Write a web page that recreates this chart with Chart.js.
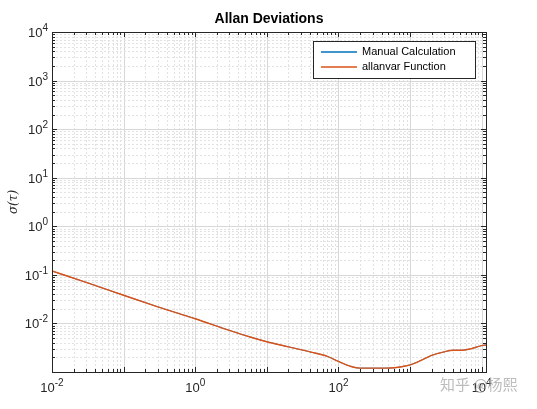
<!DOCTYPE html>
<html><head><meta charset="utf-8">
<script src="https://cdn.jsdelivr.net/npm/chart.js@4"></script>
<style>html,body{margin:0;padding:0;background:#fff}#w{position:relative;width:537px;height:409px}</style>
</head><body><div id="w"><canvas id="c" width="537" height="409"></canvas></div>
<script>
const tau = [0.01,0.03,0.1,0.3,1,3,6,10,20,40,70,100,150,200,300,450,600,800,1000,1500,2000,3000,4000,5200,7000,10000,11500];
const manualCalc = [0.12,0.07,0.038,0.022,0.0125,0.0072,0.0052,0.0042,0.0033,0.0026,0.0021,0.00165,0.0013,0.0012,0.0012,0.0012,0.00122,0.0013,0.0014,0.0018,0.0022,0.0026,0.0028,0.0028,0.003,0.0035,0.0036];
const allanvarFn = manualCalc.slice();
const xTickExps = ['-2','0','2','4'];
const yTickExps = ['-2','-1','0','1','2','3','4'];
const xMajors=[1e-2,1e0,1e2,1e4];
const yMajors=[1e-2,1e-1,1e0,1e1,1e2,1e3,1e4];
function logTicks(min,max){const t=[];for(let e=-4;e<=5;e++)for(let k=1;k<10;k++){const v=k*Math.pow(10,e);if(v>=min*0.999&&v<=max*1.001)t.push({value:v,major:k===1});}return t;}
const F='Arial, "Liberation Sans", sans-serif';
function pow10(ctx,exp,x,y,align){ctx.font='13px '+F;const w1=ctx.measureText('10').width;ctx.font='10px '+F;const w2=ctx.measureText(exp).width;const W=w1+w2;let sx=align==='center'?x-W/2:x-W;ctx.textAlign='left';ctx.textBaseline='alphabetic';ctx.font='13px '+F;ctx.fillText('10',sx,y);ctx.font='10px '+F;ctx.fillText(exp,sx+w1,y-6);}
const gridPlugin={id:'g',beforeDatasetsDraw(ch){const {ctx,chartArea:a,scales:{x,y}}=ch;ctx.save();ctx.lineWidth=1;
 x.ticks.forEach(t=>{const p=Math.round(x.getPixelForValue(t.value))+0.5;ctx.strokeStyle=t.major?'#d8d8d8':'#e2e2e2';ctx.setLineDash(t.major?[]:[2,2]);ctx.beginPath();ctx.moveTo(p,a.top);ctx.lineTo(p,a.bottom);ctx.stroke();});
 y.ticks.forEach(t=>{const p=Math.round(y.getPixelForValue(t.value))+0.5;ctx.strokeStyle=t.major?'#d8d8d8':'#e2e2e2';ctx.setLineDash(t.major?[]:[2,2]);ctx.beginPath();ctx.moveTo(a.left,p);ctx.lineTo(a.right,p);ctx.stroke();});
 ctx.restore();},
 afterDatasetsDraw(ch){const {ctx,chartArea:a,scales:{x,y}}=ch;ctx.save();ctx.strokeStyle='#262626';ctx.lineWidth=1;ctx.setLineDash([]);
 ctx.strokeRect(Math.round(a.left)+0.5,Math.round(a.top)+0.5,Math.round(a.right-a.left),Math.round(a.bottom-a.top));
 ctx.beginPath();
 x.ticks.forEach(t=>{const p=Math.round(x.getPixelForValue(t.value))+0.5;const L=t.major?5:3;ctx.moveTo(p,a.bottom);ctx.lineTo(p,a.bottom-L);ctx.moveTo(p,a.top);ctx.lineTo(p,a.top+L);});
 y.ticks.forEach(t=>{const p=Math.round(y.getPixelForValue(t.value))+0.5;const L=t.major?5:3;ctx.moveTo(a.left,p);ctx.lineTo(a.left+L,p);ctx.moveTo(a.right,p);ctx.lineTo(a.right-L,p);});
 ctx.stroke();
 ctx.fillStyle='#262626';
 xMajors.forEach((v,i)=>pow10(ctx,xTickExps[i],x.getPixelForValue(v),a.bottom+20,'center'));
 yMajors.forEach((v,i)=>pow10(ctx,yTickExps[i],a.left-4,y.getPixelForValue(v)+5,'right'));
 ctx.font='bold 14px '+F;ctx.textAlign='center';ctx.textBaseline='middle';ctx.fillStyle='#000';ctx.fillText('Allan Deviations',(a.left+a.right)/2,19);
 ctx.translate(14,(a.top+a.bottom)/2);ctx.rotate(-Math.PI/2);ctx.font='italic 12px "DejaVu Serif", serif';ctx.fillStyle='#262626';ctx.fillText('σ(τ)',0,0);ctx.setTransform(1,0,0,1,0,0);
 ctx.font='15px "Noto Sans CJK SC"';ctx.fillStyle='rgba(160,160,160,0.7)';ctx.textAlign='left';ctx.fillText('知乎 @杨熙',440,384);
 const lx=313,ly=41,lw=162,lh=37;ctx.fillStyle='#fff';ctx.fillRect(lx,ly,lw,lh);ctx.strokeStyle='#262626';ctx.lineWidth=1;ctx.strokeRect(lx+0.5,ly+0.5,lw,lh);
 ctx.font='11px '+F;ctx.textAlign='left';ctx.textBaseline='middle';
 [['Manual Calculation','#0072BD'],['allanvar Function','#D95319']].forEach((e,i)=>{const yy=ly+11+i*15;ctx.strokeStyle=e[1];ctx.lineWidth=1.3;ctx.beginPath();ctx.moveTo(lx+8,yy);ctx.lineTo(lx+44,yy);ctx.stroke();ctx.fillStyle='#000';ctx.fillText(e[0],lx+49,yy);});
 ctx.restore();}};
new Chart(document.getElementById('c'),{type:'line',
 data:{labels:tau,datasets:[
  {label:'Manual Calculation',order:2,data:tau.map((t,i)=>({x:t,y:manualCalc[i]})),borderColor:'#0072BD',borderWidth:0.8,pointRadius:0,cubicInterpolationMode:'monotone'},
  {label:'allanvar Function',order:1,data:tau.map((t,i)=>({x:t,y:allanvarFn[i]})),borderColor:'#D95319',borderWidth:1.4,pointRadius:0,cubicInterpolationMode:'monotone'}]},
 options:{responsive:false,animation:false,events:[],
  plugins:{legend:{display:false},tooltip:{enabled:false}},
  scales:{
   x:{type:'logarithmic',min:0.01,max:11500,afterBuildTicks(s){s.ticks=logTicks(0.01,11500);},ticks:{display:false},grid:{display:false},border:{display:false},
      afterFit(s){s.height=37;}},
   y:{type:'logarithmic',min:1e-3,max:1e4,afterBuildTicks(s){s.ticks=logTicks(1e-3,1e4);},ticks:{display:false},grid:{display:false},border:{display:false},
      afterFit(s){s.width=52;}}
  }},
 plugins:[gridPlugin,{id:'pad',beforeLayout(ch){ch.options.layout.padding={top:32,right:51,left:0,bottom:0};}}]
});
</script></body></html>
